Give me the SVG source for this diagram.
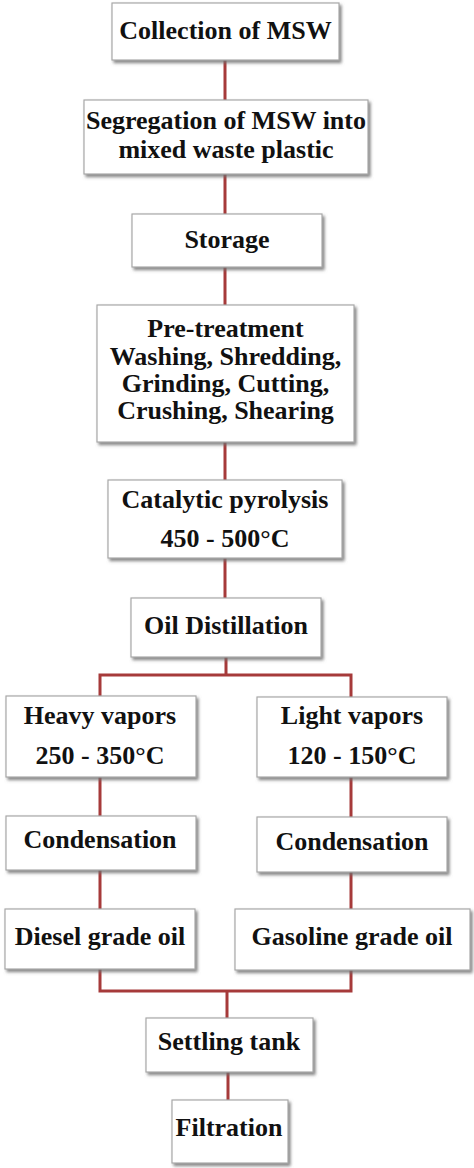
<svg xmlns="http://www.w3.org/2000/svg" width="474" height="1168" viewBox="0 0 474 1168">
<defs>
<filter id="sh" x="-10%" y="-10%" width="125%" height="130%">
<feDropShadow dx="2" dy="2.5" stdDeviation="1.5" flood-color="#6f6f6f" flood-opacity="0.85"/>
</filter>
<style>
.box{fill:#ffffff;stroke:#a8a8a8;stroke-width:1.2;filter:url(#sh)}
.t{font-weight:bold;font-size:26px;fill:#111;text-anchor:middle}
.c{fill:none;stroke:#a63a3a;stroke-width:3}
</style>
</defs>
<rect width="474" height="1168" fill="#ffffff"/>
<g id="connectors">
<path class="c" d="M225 60V100M225 174V214M225 267V305M225 442V480M225 558V598M226 657V675"/>
<path class="c" d="M100 696V675H351V697"/>
<path class="c" d="M100 777V816M100 870V909M351 777V817M351 872V909"/>
<path class="c" d="M100 969V991H351V970M227 991V1018M228 1072V1100"/>
</g>
<g font-family="Liberation Serif, DejaVu Serif, serif">
<g id="n1"><rect class="box" x="112" y="3" width="227" height="57"/><text class="t" x="225.5" y="39">Collection of MSW</text></g>
<g id="n2"><rect class="box" x="84" y="100" width="284" height="74"/><text class="t" x="226" y="129">Segregation of MSW into</text><text class="t" x="226" y="158">mixed waste plastic</text></g>
<g id="n3"><rect class="box" x="132" y="214" width="190" height="53"/><text class="t" x="227" y="248">Storage</text></g>
<g id="n4"><rect class="box" x="97" y="305" width="257" height="137"/><text class="t" x="225.5" y="337">Pre-treatment</text><text class="t" x="225.5" y="365">Washing, Shredding,</text><text class="t" x="225.5" y="392">Grinding, Cutting,</text><text class="t" x="225.5" y="419">Crushing, Shearing</text></g>
<g id="n5"><rect class="box" x="108" y="480" width="234" height="78"/><text class="t" x="225" y="508">Catalytic pyrolysis</text><text class="t" x="225" y="547">450 - 500°C</text></g>
<g id="n6"><rect class="box" x="131" y="598" width="190" height="59"/><text class="t" x="226" y="634">Oil Distillation</text></g>
<g id="n7"><rect class="box" x="6" y="696" width="190" height="81"/><text class="t" x="100" y="724">Heavy vapors</text><text class="t" x="100" y="764">250 - 350°C</text></g>
<g id="n8"><rect class="box" x="257" y="697" width="190" height="80"/><text class="t" x="352" y="724">Light vapors</text><text class="t" x="352" y="764">120 - 150°C</text></g>
<g id="n9"><rect class="box" x="6" y="816" width="190" height="54"/><text class="t" x="100" y="848">Condensation</text></g>
<g id="n10"><rect class="box" x="257" y="817" width="190" height="55"/><text class="t" x="352" y="850">Condensation</text></g>
<g id="n11"><rect class="box" x="5" y="909" width="190" height="60"/><text class="t" x="100" y="945">Diesel grade oil</text></g>
<g id="n12"><rect class="box" x="235" y="909" width="235" height="61"/><text class="t" x="352" y="945">Gasoline grade oil</text></g>
<g id="n13"><rect class="box" x="146" y="1018" width="167" height="54"/><text class="t" x="229" y="1050">Settling tank</text></g>
<g id="n14"><rect class="box" x="172" y="1100" width="116" height="63"/><text class="t" x="229" y="1136">Filtration</text></g>
</g>
</svg>
